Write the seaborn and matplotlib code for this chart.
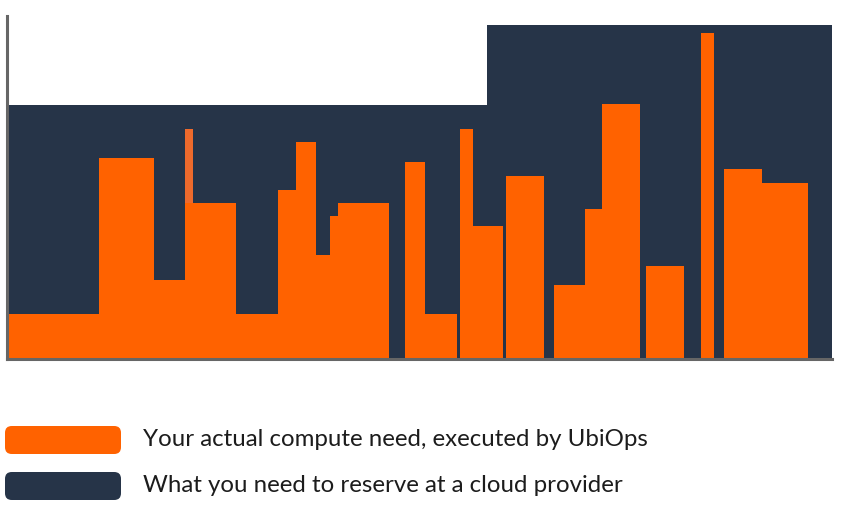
import matplotlib.pyplot as plt
import seaborn as sns
from matplotlib.patches import FancyBboxPatch

# time axis (arbitrary units) and compute need per segment, 0 = idle
t_edges = [0, 92, 147, 178, 186, 229, 271, 289, 309, 323, 331, 382, 398, 418,
           450, 453, 466, 496, 499, 537, 547, 578, 595, 633, 639, 677, 694,
           707, 717, 755, 801, 825]
need = [45, 201, 79, 230, 156, 45, 169, 217, 104, 143, 156, 0, 197, 45,
        0, 230, 133, 0, 183, 0, 74, 150, 255, 0, 93, 0, 326,
        0, 190, 176, 0]
spike_idx = 3  # short burst drawn in a lighter tone

# capacity reserved at a cloud provider
reserve_edges = [0, 480, 825]
reserve = [254, 334]

labels = ["Your actual compute need, executed by UbiOps",
          "What you need to reserve at a cloud provider"]

orange = "#ff6200"
spike_c = "#ee6a2c"
navy = "#263448"

sns.set_theme(style="white")
plt.rcParams["font.family"] = ["Lato", "DejaVu Sans"]

W, H = 845, 513
fig = plt.figure(figsize=(W / 100, H / 100), dpi=100)
ax = fig.add_axes([7 / W, (H - 359) / H, 825 / W, 343 / H])

mid = lambda e: [(a + b) / 2 for a, b in zip(e[:-1], e[1:])]

sns.histplot(x=mid(reserve_edges), weights=reserve, bins=reserve_edges,
             element="step", fill=True, color=navy, alpha=1, linewidth=0, ax=ax)
sns.histplot(x=mid(t_edges), weights=need, bins=t_edges,
             element="step", fill=True, color=orange, alpha=1, linewidth=0, ax=ax)

# lighter spike on top of neighbouring block
lo = need[spike_idx + 1]
ax.bar(t_edges[spike_idx], need[spike_idx] - lo, bottom=lo,
       width=t_edges[spike_idx + 1] - t_edges[spike_idx], align="edge",
       color=spike_c, linewidth=0)

ax.set_xlim(t_edges[0], t_edges[-1])
ax.set_ylim(0, 343)
ax.set_xticks([])
ax.set_yticks([])
ax.set_xlabel("")
ax.set_ylabel("")
for s in ["top", "right"]:
    ax.spines[s].set_visible(False)
for s in ["left", "bottom"]:
    ax.spines[s].set_color("#666666")
    ax.spines[s].set_linewidth(2.2)

# legend
for i, (lab, c) in enumerate(zip(labels, [orange, navy])):
    y0 = 426 + i * 46
    box = FancyBboxPatch((5 / W, (H - y0 - 28) / H), 116 / W, 28 / H,
                         boxstyle="round,pad=0,rounding_size=0.008",
                         transform=fig.transFigure, facecolor=c,
                         edgecolor="none", mutation_aspect=W / H)
    fig.patches.append(box)
    fig.text(143 / W, (H - y0 - 14) / H, lab, fontsize=17.3, color="#1c1c1c",
             va="center", ha="left")

plt.savefig("out.png", dpi=100)
